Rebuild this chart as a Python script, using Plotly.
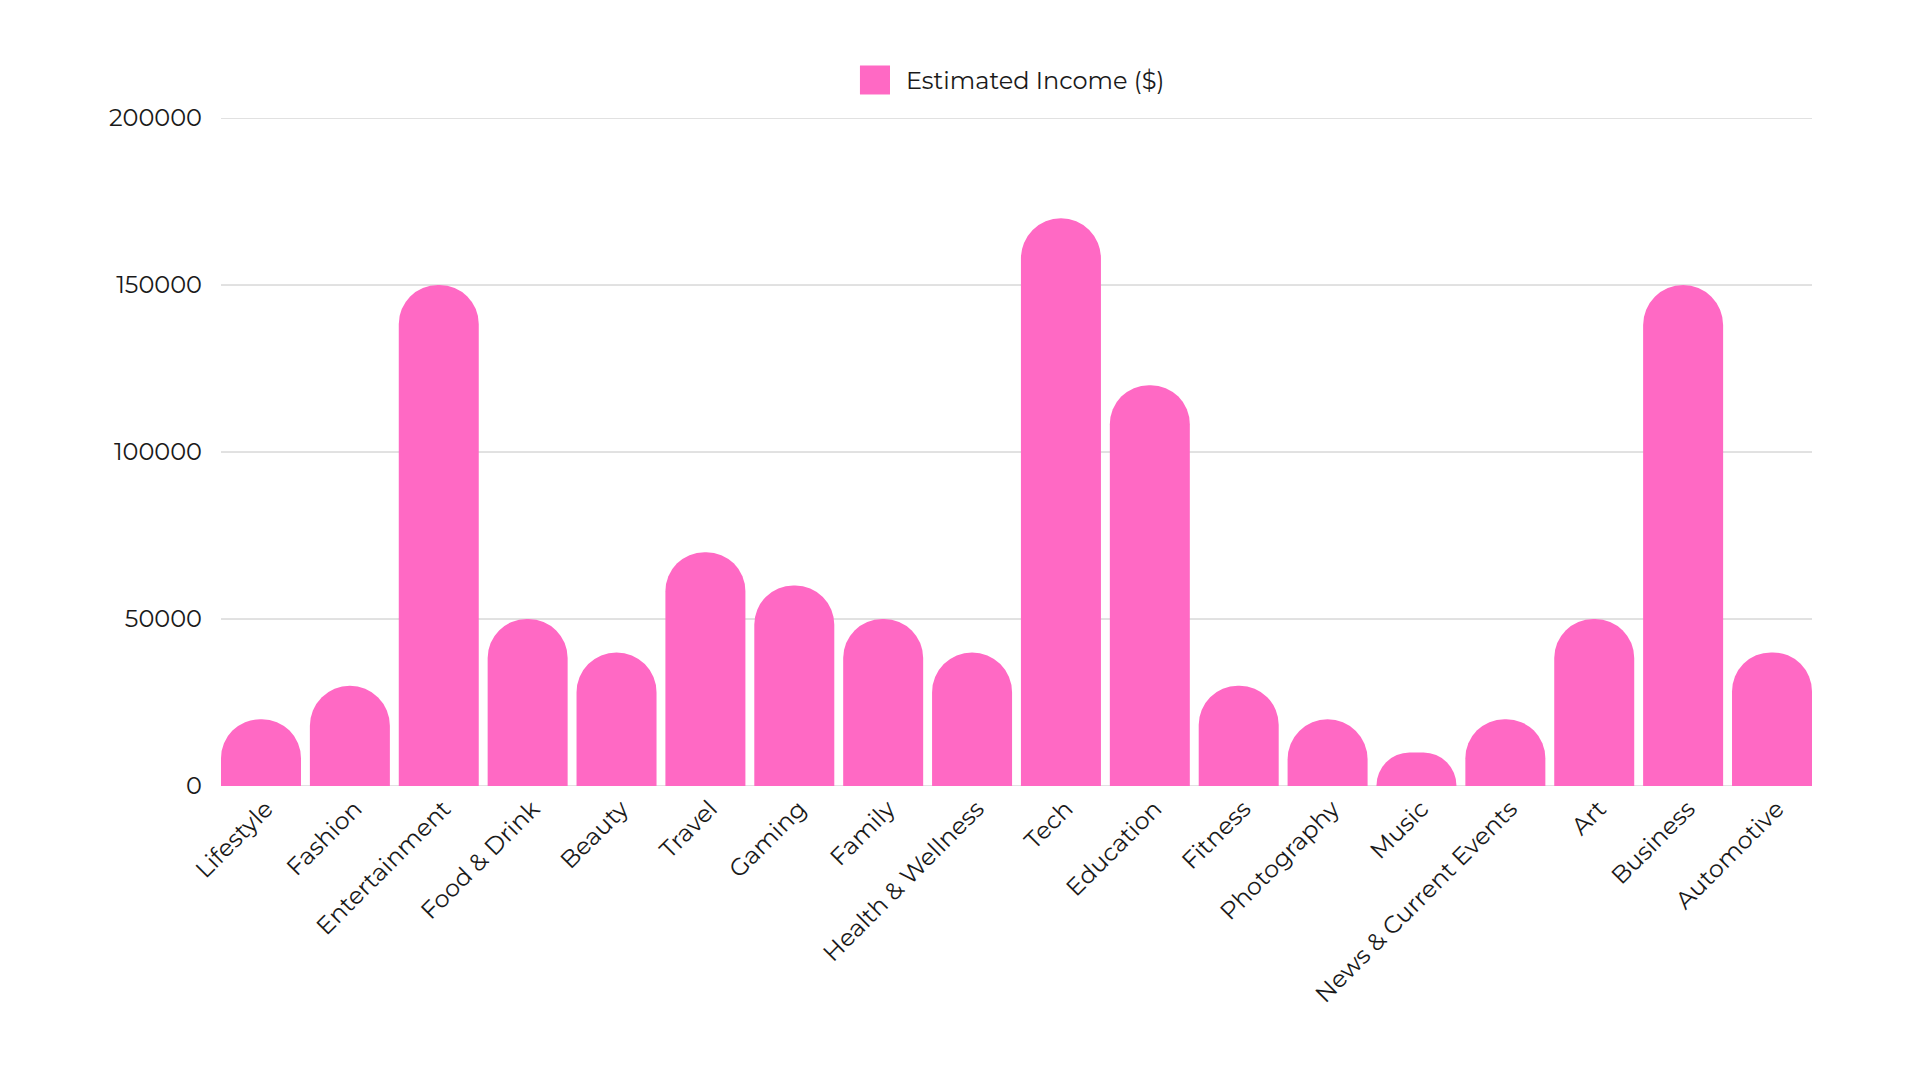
import plotly.graph_objects as go

categories = ["Lifestyle", "Fashion", "Entertainment", "Food & Drink", "Beauty", "Travel",
              "Gaming", "Family", "Health & Wellness", "Tech", "Education", "Fitness",
              "Photography", "Music", "News & Current Events", "Art", "Business", "Automotive"]
income = [20000, 30000, 150000, 50000, 40000, 70000,
          60000, 50000, 40000, 170000, 120000, 30000,
          20000, 10000, 20000, 50000, 150000, 40000]
series_name = "Estimated Income ($)"
y_ticks = [0, 50000, 100000, 150000, 200000]

PINK = "#FF69C4"
FONT = "Montserrat, Inter, Lato, sans-serif"
TEXT = "#1a1a1a"
GRID = "#c4c4c4"

fig = go.Figure()
fig.add_trace(go.Bar(
    x=categories, y=income, name=series_name,
    marker=dict(color=PINK, cornerradius="50%", line=dict(width=0)),
    showlegend=False,
))

# gridlines at every tick (including the range edges, which plotly omits)
for v in y_ticks:
    fig.add_hline(y=v, line=dict(color=GRID, width=1), layer="below")

# legend swatch + label (drawn as a larger square like the reference)
fig.add_shape(type="rect", xref="paper", yref="paper",
              x0=0.4016, x1=0.4205, y0=1.0352, y1=1.0786,
              fillcolor=PINK, line=dict(width=0))
fig.add_annotation(text=series_name, xref="paper", yref="paper",
                   x=0.4290, y=1.0561, xanchor="left", yanchor="middle",
                   showarrow=False, font=dict(size=24, color=TEXT, family=FONT))

fig.update_layout(
    width=1920, height=1080,
    paper_bgcolor="white", plot_bgcolor="white",
    font=dict(family=FONT, size=24, color=TEXT),
    margin=dict(l=213, r=116, t=110, b=302, autoexpand=False),
    bargap=0.1,
    showlegend=False,
    xaxis=dict(
        tickangle=-45, tickfont=dict(size=24, color=TEXT, family=FONT),
        showgrid=False, showline=False, zeroline=False, automargin=False,
        ticks="", ticklabelshift=5, ticklabelstandoff=3,
        range=[-0.45, len(categories) - 0.55],
    ),
    yaxis=dict(
        range=[0, 200000], tickvals=y_ticks, ticktext=[str(v) for v in y_ticks],
        showgrid=False, zeroline=False,
        showline=False, ticks="", ticklabelstandoff=18, automargin=False,
        tickfont=dict(size=24, color=TEXT, family=FONT),
    ),
)

fig.write_html("out.html")
